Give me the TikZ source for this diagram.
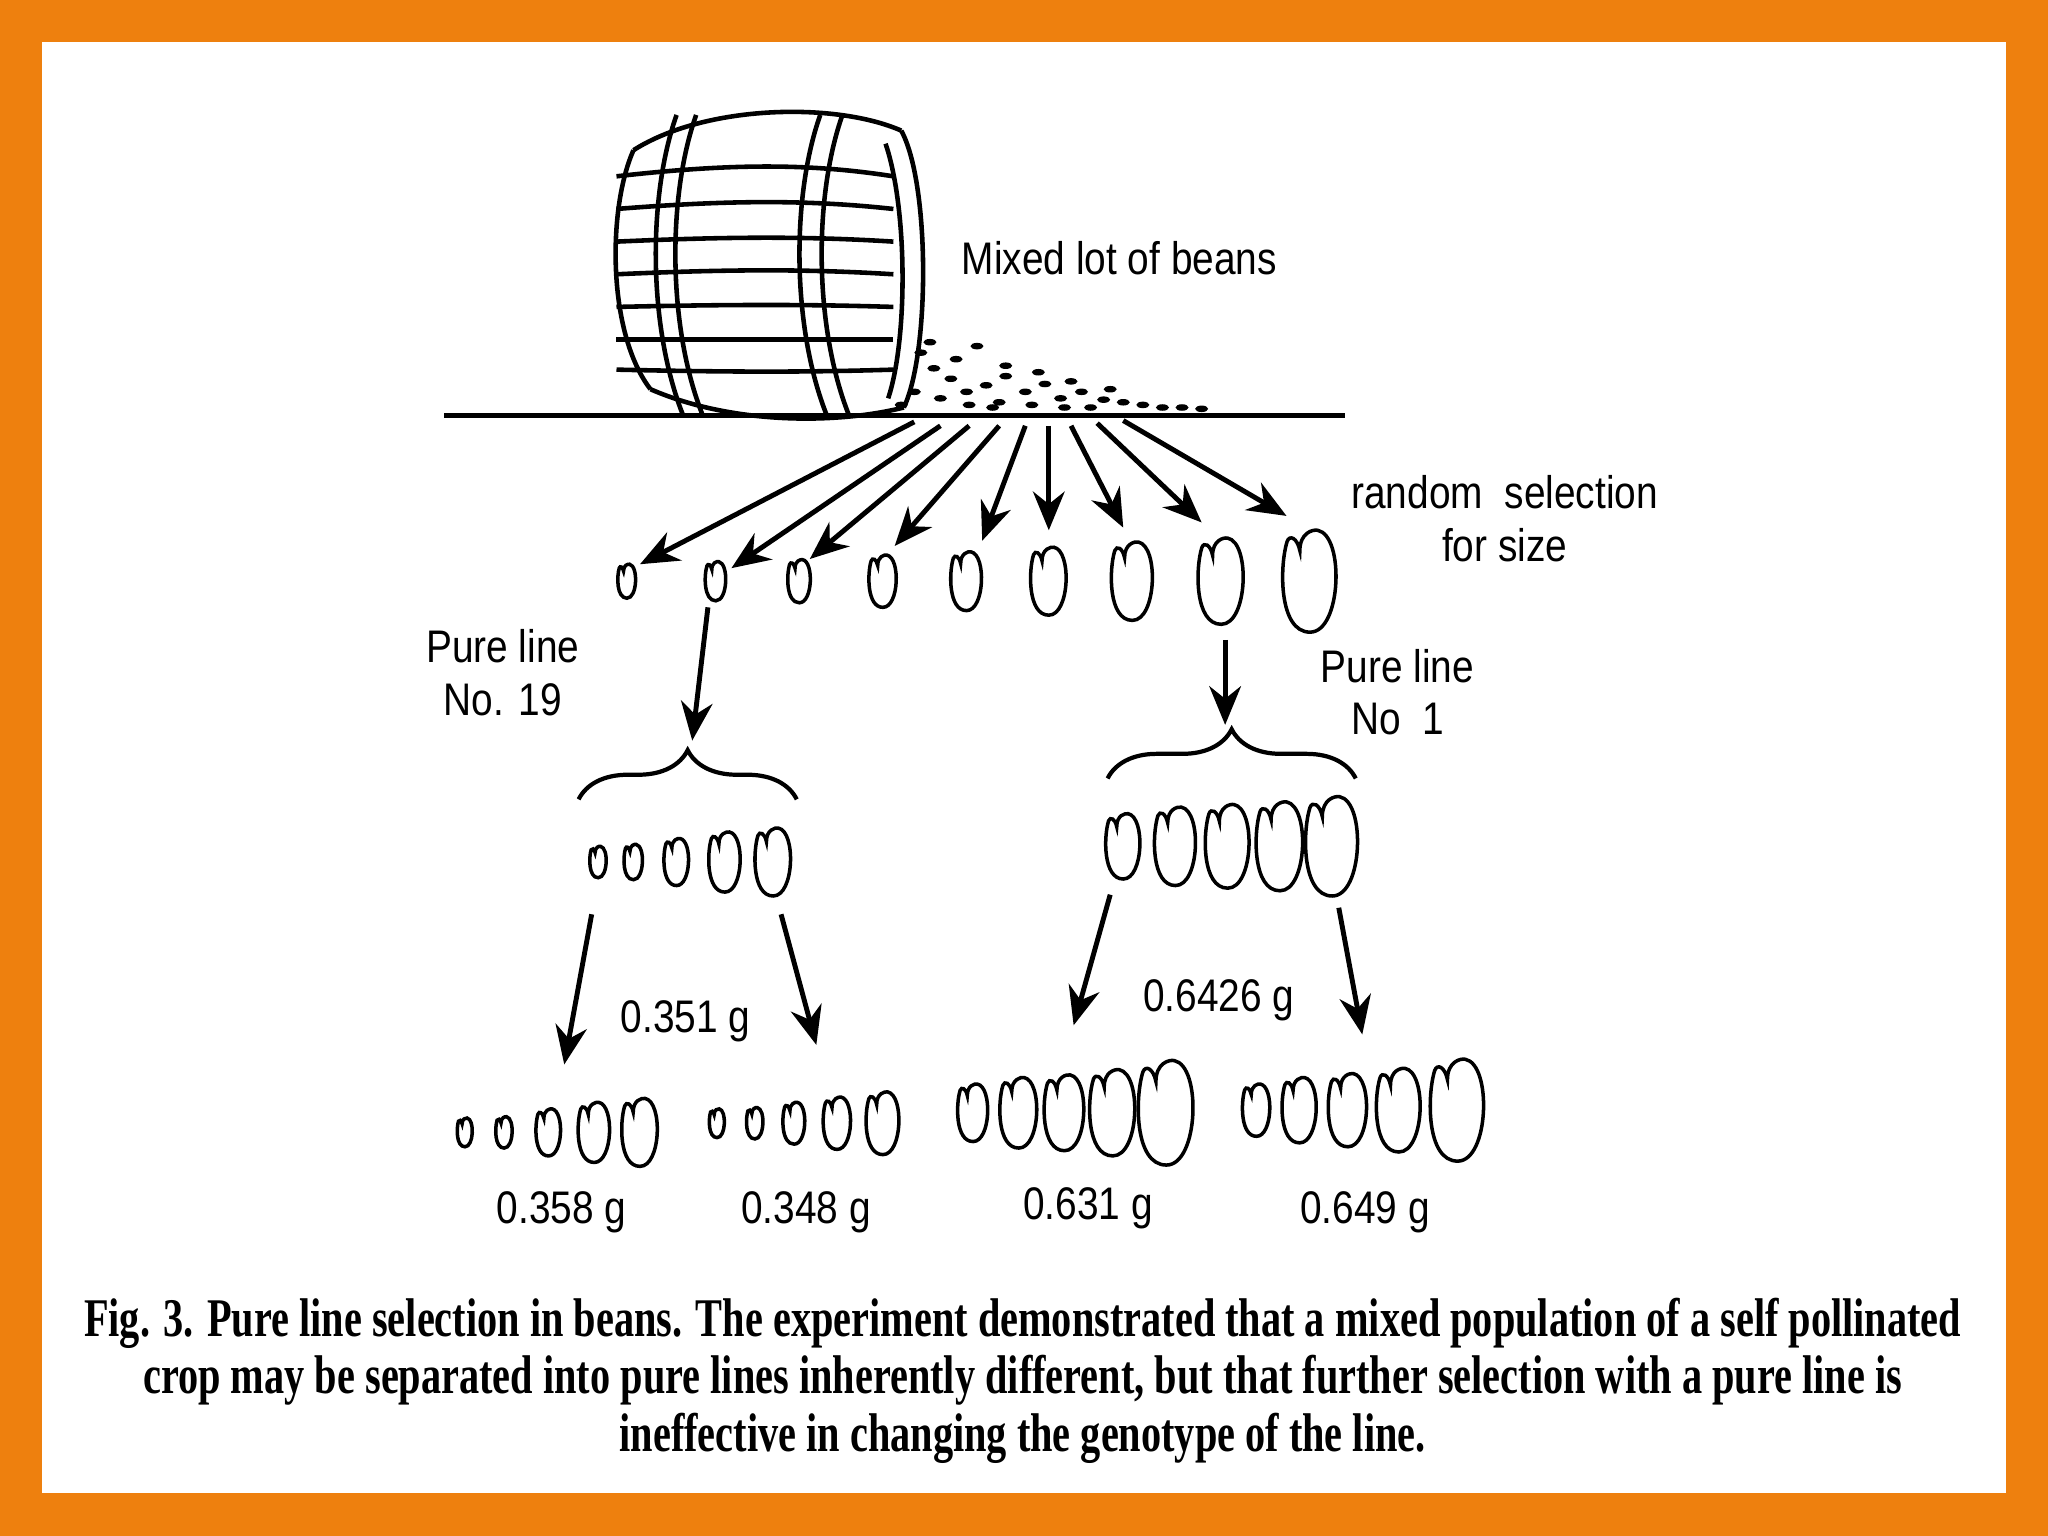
\documentclass[tikz,border=0pt]{standalone}
\usepackage{fontspec}
\setmainfont{Liberation Sans}
\newfontfamily\capfont[FakeStretch=0.74]{Liberation Serif Bold}
\newfontfamily\lblfont[FakeStretch=0.85]{Liberation Sans}
\usetikzlibrary{arrows.meta,decorations.pathreplacing}
\definecolor{frame}{RGB}{238,128,14}
\tikzset{
  ink/.style={line width=1.0pt,black},
  arr/.style={line width=1.4pt,-{Stealth[length=11pt,width=9pt]}},
  lbl/.style={font=\lblfont\fontsize{13}{15}\selectfont,align=center,inner sep=1pt},
  brc/.style={line width=1.2pt,decorate,decoration={brace,amplitude=14pt}},
  bean/.pic={\draw[line width=1.0pt] (-0.2,-0.6) .. controls (-0.2,-0.95) and (0.05,-1.02) .. (0.15,-1)
     .. controls (0.68,-0.9) and (0.62,1) .. (0,1) .. controls (-0.62,1) and (-0.6,-0.3) .. (-0.45,-0.78)
     .. controls (-0.4,-0.92) and (-0.25,-0.85) .. (-0.2,-0.6) -- cycle;}
}
\begin{document}
\begin{tikzpicture}[x=0.013061cm,y=-0.013061cm]
\fill[frame] (0,0) rectangle (1568,1176);
\fill[white] (32,32) rectangle (1536,1143);
\useasboundingbox (0,0) rectangle (1568,1176);
% barrel
\begin{scope}[ink,line width=1.3pt]
\draw (485,115) .. controls (540,80) and (640,78) .. (690,100);
\draw (498,298) .. controls (560,325) and (640,325) .. (692,312);
\draw (485,115) .. controls (465,160) and (465,255) .. (498,298);
\draw (690,100) .. controls (712,140) and (712,270) .. (692,312);
\draw (678,110) .. controls (695,160) and (695,260) .. (680,305);
\foreach \y/\b in {135/-6,160/-3,185/0,210/0,235/2,260/4,283/6}
  \draw (472,\y) .. controls (560,\y+\b-4) and (620,\y+\b-4) .. (684,\y);
\foreach \x in {518,533,628,645}
  \draw (\x,88) .. controls (\x-22,150) and (\x-22,250) .. (\x+5,318);
\end{scope}
\node[lbl] (mix) at (857,198) {Mixed lot of beans};
% ground
\coordinate (g1) at (340,318); \coordinate (g2) at (1030,318);
\draw[ink,line width=1.5pt] (g1) -- (g2);
% spilled beans
\foreach \x/\y in {705/270,715/282,728/290,740/300,755/295,770/288,785/300,800/294,812/305,828/300,845/306,860/308,875/310,890/312,905/312,920/313,700/300,720/305,742/310,765/308,790/310,815/312,835/312,712/262,748/265,770/280,795/285,820/292,850/298,732/275,690/310,760/312}
  \fill (\x,\y) ellipse (5 and 2.5);
% top row beans
\foreach \i/\x/\h in {1/480/26,2/548/30,3/612/33,4/676/40,5/740/45,6/803/52,7/867/60,8/935/66,9/1003/78}
  \pic (b\i) at (\x,445) [scale=\h/2] {bean};
\coordinate (s1) at (700,323); \coordinate (s2) at (720,326); \coordinate (s3) at (742,326);
\coordinate (s4) at (765,326); \coordinate (s5) at (785,326); \coordinate (s6) at (803,326);
\coordinate (s7) at (820,326); \coordinate (s8) at (840,324); \coordinate (s9) at (860,322);
\draw[arr] (s1) -- (490,432); \draw[arr] (s2) -- (560,435); \draw[arr] (s3) -- (620,428);
\draw[arr] (s4) -- (685,418); \draw[arr] (s5) -- (752,414); \draw[arr] (s6) -- (803,406);
\draw[arr] (s7) -- (860,404); \draw[arr] (s8) -- (920,400); \draw[arr] (s9) -- (985,395);
\node[lbl] (rs) at (1152,397) {random\ \ selection\\for size};
\node[lbl,align=center] (p19) at (385,515) {Pure line\\No. 19};
\node[lbl,align=center] (p1) at (1070,530) {Pure line\\No\ \ 1};
% second level
\coordinate (a1) at (542,465); \coordinate (a1e) at (530,567);
\draw[arr] (a1) -- (a1e);
\draw[brc] (443,612) -- (610,612);
\coordinate (a2) at (938,490); \coordinate (a2e) at (938,555);
\draw[arr] (a2) -- (a2e);
\draw[brc] (848,596) -- (1038,596);
\foreach \x/\h in {458/24,485/27,518/36,555/46,592/52}
  \pic at (\x,660) [scale=\h/2] {bean};
\foreach \x/\h in {860/50,900/60,940/64,980/68,1020/76}
  \pic at (\x,648) [scale=\h/2] {bean};
\draw[arr] (453,700) -- (432,815);
\draw[arr] (598,700) -- (625,800);
\draw[arr] (850,685) -- (822,785);
\draw[arr] (1025,695) -- (1043,792);
\node[lbl] (w1) at (525,782) {0.351 g};
\node[lbl] (w2) at (933,766) {0.6426 g};
% bottom
\foreach \x/\h in {356/22,386/24,420/36,455/46,490/52}
  \pic at (\x,867) [scale=\h/2] {bean};
\foreach \x/\h in {549/22,578/24,608/32,641/40,676/48}
  \pic at (\x,860) [scale=\h/2] {bean};
\foreach \x/\h in {745/44,780/54,815/58,852/66,893/80}
  \pic at (\x,852) [scale=\h/2] {bean};
\foreach \x/\h in {962/40,995/50,1032/56,1071/64,1116/78}
  \pic at (\x,850) [scale=\h/2] {bean};
\node[lbl] (w3) at (430,928) {0.358 g};
\node[lbl] (w4) at (617,928) {0.348 g};
\node[lbl] (w5) at (833,925) {0.631 g};
\node[lbl] (w6) at (1045,928) {0.649 g};
% caption
\node[font=\capfont\fontsize{15.5}{16.3}\selectfont,align=center,inner sep=0pt] (cap) at (783,1057)
 {Fig. 3. Pure line selection in beans. The experiment demonstrated that a mixed population of a self pollinated\\
 crop may be separated into pure lines inherently different, but that further selection with a pure line is\\
 ineffective in changing the genotype of the line.};
\end{tikzpicture}
\end{document}
